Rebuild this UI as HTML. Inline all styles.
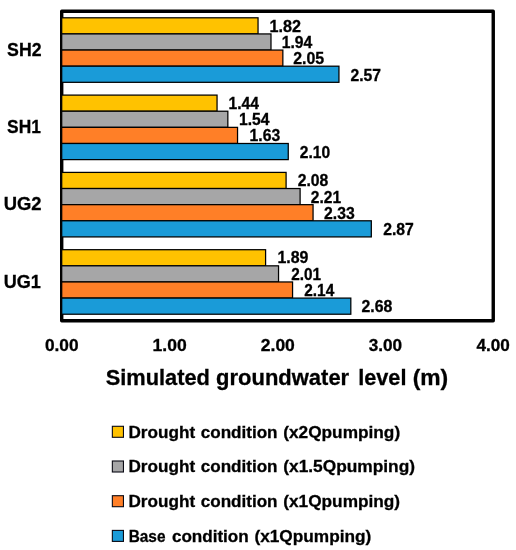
<!DOCTYPE html>
<html><head><meta charset="utf-8"><title>Simulated groundwater level</title>
<style>
html,body{margin:0;padding:0;background:#fff}
svg{display:block}
text{font-family:"Liberation Sans",sans-serif;font-weight:bold;fill:#000;stroke:#000;stroke-width:0.3px}
</style></head><body>
<svg width="516" height="550" viewBox="0 0 516 550">
<rect x="0" y="0" width="516" height="550" fill="#fff"/>
<rect x="61.7" y="11.2" width="431.55" height="309.50" fill="none" stroke="#000" stroke-width="3.4" stroke-linejoin="round"/>
<rect x="61.7" y="17.80" width="196.34" height="16.13" fill="#FFC200" stroke="#000" stroke-width="1.25"/>
<rect x="61.7" y="33.93" width="209.29" height="16.13" fill="#A6A6A7" stroke="#000" stroke-width="1.25"/>
<rect x="61.7" y="50.06" width="221.15" height="16.13" fill="#FF7F27" stroke="#000" stroke-width="1.25"/>
<rect x="61.7" y="66.19" width="277.25" height="16.13" fill="#1A9BD8" stroke="#000" stroke-width="1.25"/>
<rect x="61.7" y="95.10" width="155.35" height="16.13" fill="#FFC200" stroke="#000" stroke-width="1.25"/>
<rect x="61.7" y="111.23" width="166.14" height="16.13" fill="#A6A6A7" stroke="#000" stroke-width="1.25"/>
<rect x="61.7" y="127.36" width="175.84" height="16.13" fill="#FF7F27" stroke="#000" stroke-width="1.25"/>
<rect x="61.7" y="143.49" width="226.55" height="16.13" fill="#1A9BD8" stroke="#000" stroke-width="1.25"/>
<rect x="61.7" y="172.40" width="224.39" height="16.13" fill="#FFC200" stroke="#000" stroke-width="1.25"/>
<rect x="61.7" y="188.53" width="238.41" height="16.13" fill="#A6A6A7" stroke="#000" stroke-width="1.25"/>
<rect x="61.7" y="204.66" width="251.36" height="16.13" fill="#FF7F27" stroke="#000" stroke-width="1.25"/>
<rect x="61.7" y="220.79" width="309.62" height="16.13" fill="#1A9BD8" stroke="#000" stroke-width="1.25"/>
<rect x="61.7" y="249.70" width="203.89" height="16.13" fill="#FFC200" stroke="#000" stroke-width="1.25"/>
<rect x="61.7" y="265.83" width="216.84" height="16.13" fill="#A6A6A7" stroke="#000" stroke-width="1.25"/>
<rect x="61.7" y="281.96" width="230.86" height="16.13" fill="#FF7F27" stroke="#000" stroke-width="1.25"/>
<rect x="61.7" y="298.09" width="289.12" height="16.13" fill="#1A9BD8" stroke="#000" stroke-width="1.25"/>
<text transform="translate(269.59,31.60) scale(1.0254,1)" font-size="15.8">1.82</text>
<text transform="translate(281.72,48.10) scale(0.9961,1)" font-size="15.8">1.94</text>
<text transform="translate(293.24,64.40) scale(1.0069,1)" font-size="15.8">2.05</text>
<text transform="translate(350.45,80.60) scale(0.9947,1)" font-size="15.8">2.57</text>
<text transform="translate(228.52,108.70) scale(0.9894,1)" font-size="15.8">1.44</text>
<text transform="translate(238.92,124.90) scale(0.9928,1)" font-size="15.8">1.54</text>
<text transform="translate(249.51,141.20) scale(0.9986,1)" font-size="15.8">1.63</text>
<text transform="translate(299.75,157.70) scale(0.9866,1)" font-size="15.8">2.10</text>
<text transform="translate(297.70,186.20) scale(0.9965,1)" font-size="15.8">2.08</text>
<text transform="translate(310.86,202.70) scale(0.9851,1)" font-size="15.8">2.21</text>
<text transform="translate(324.05,219.30) scale(0.9975,1)" font-size="15.8">2.33</text>
<text transform="translate(383.15,234.70) scale(0.9981,1)" font-size="15.8">2.87</text>
<text transform="translate(277.40,263.40) scale(1.0089,1)" font-size="15.8">1.89</text>
<text transform="translate(291.16,279.85) scale(0.9700,1)" font-size="15.8">2.01</text>
<text transform="translate(304.26,296.30) scale(0.9751,1)" font-size="15.8">2.14</text>
<text transform="translate(361.55,312.40) scale(1.0015,1)" font-size="15.8">2.68</text>
<text transform="translate(7.07,55.75) scale(0.9319,1)" font-size="19.0">SH2</text>
<text transform="translate(7.08,133.05) scale(0.9132,1)" font-size="19.0">SH1</text>
<text transform="translate(3.70,210.35) scale(0.9692,1)" font-size="19.0">UG2</text>
<text transform="translate(3.72,287.65) scale(0.9510,1)" font-size="19.0">UG1</text>
<text transform="translate(44.91,350.80) scale(1.0417,1)" font-size="16.6">0.00</text>
<text transform="translate(152.60,350.80) scale(1.0577,1)" font-size="16.6">1.00</text>
<text transform="translate(260.79,350.80) scale(1.0550,1)" font-size="16.6">2.00</text>
<text transform="translate(368.71,350.80) scale(1.0352,1)" font-size="16.6">3.00</text>
<text transform="translate(476.54,350.80) scale(1.0311,1)" font-size="16.6">4.00</text>
<text transform="translate(105.65,385.25) scale(0.9783,1)" font-size="22.3">Simulated</text>
<text transform="translate(216.12,385.25) scale(0.9858,1)" font-size="22.3">groundwater</text>
<text transform="translate(358.18,385.25) scale(0.9732,1)" font-size="22.3">level</text>
<text transform="translate(412.66,385.25) scale(1.0248,1)" font-size="22.3">(m)</text>
<rect x="112.35" y="426.30" width="11.1" height="11.0" fill="#FFC200" stroke="#0a0a14" stroke-width="1.1"/>
<text transform="translate(128.44,437.55) scale(0.9979,1)" font-size="17.2">Drought</text>
<text transform="translate(200.72,437.55) scale(0.9936,1)" font-size="17.2">condition</text>
<text transform="translate(283.24,437.55) scale(1.0035,1)" font-size="17.2">(x2Qpumping)</text>
<rect x="112.35" y="461.00" width="11.1" height="11.0" fill="#A6A6A7" stroke="#0a0a14" stroke-width="1.1"/>
<text transform="translate(128.44,472.25) scale(0.9979,1)" font-size="17.2">Drought</text>
<text transform="translate(200.72,472.25) scale(0.9936,1)" font-size="17.2">condition</text>
<text transform="translate(283.23,472.25) scale(1.0076,1)" font-size="17.2">(x1.5Qpumping)</text>
<rect x="112.35" y="495.70" width="11.1" height="11.0" fill="#FF7F27" stroke="#0a0a14" stroke-width="1.1"/>
<text transform="translate(128.44,506.95) scale(0.9979,1)" font-size="17.2">Drought</text>
<text transform="translate(200.72,506.95) scale(0.9936,1)" font-size="17.2">condition</text>
<text transform="translate(283.24,506.95) scale(1.0026,1)" font-size="17.2">(x1Qpumping)</text>
<rect x="112.35" y="530.40" width="11.1" height="11.0" fill="#1A9BD8" stroke="#0a0a14" stroke-width="1.1"/>
<text transform="translate(128.66,541.65) scale(0.8949,1)" font-size="17.2">Base</text>
<text transform="translate(171.92,541.65) scale(0.9936,1)" font-size="17.2">condition</text>
<text transform="translate(254.44,541.65) scale(1.0035,1)" font-size="17.2">(x1Qpumping)</text>
</svg>
</body></html>
